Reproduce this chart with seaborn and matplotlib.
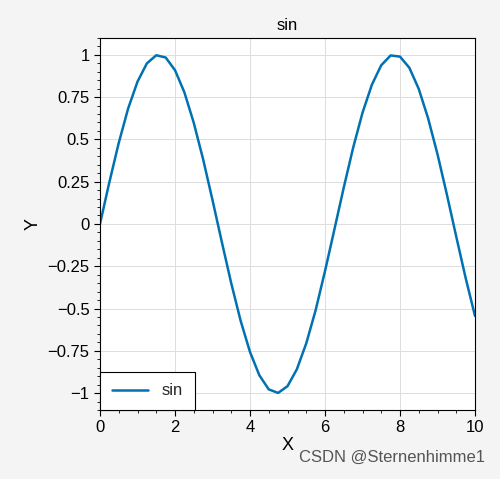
import matplotlib
matplotlib.use("Agg")
import matplotlib.pyplot as plt
import seaborn as sns
from matplotlib.ticker import AutoMinorLocator, FixedLocator

# values, step 0.25
x_vals = [i * 0.25 for i in range(41)]
y_vals = [0, 0.247, 0.479, 0.682, 0.841, 0.949, 0.997, 0.984, 0.909, 0.778,
          0.598, 0.382, 0.141, -0.108, -0.351, -0.572, -0.757, -0.895, -0.978, -0.999,
          -0.959, -0.859, -0.706, -0.510, -0.279, -0.033, 0.215, 0.450, 0.657, 0.823,
          0.938, 0.996, 0.989, 0.923, 0.798, 0.624, 0.412, 0.174, -0.075, -0.319, -0.544]
y_ticks = [-1, -0.75, -0.5, -0.25, 0, 0.25, 0.5, 0.75, 1]
y_labels = ["\u22121", "\u22120.75", "\u22120.5", "\u22120.25", "0", "0.25", "0.5", "0.75", "1"]

sns.set_theme(style="whitegrid")
plt.rcParams["font.family"] = ["Liberation Sans", "DejaVu Sans"]

fig = plt.figure(figsize=(5, 4.79), dpi=100, facecolor="#f4f4f4")
ax = fig.add_axes([0.2, 0.144, 0.75, 0.777])
ax.set_facecolor("white")

sns.lineplot(x=x_vals, y=y_vals, ax=ax, color="#0072b2", linewidth=1.8, label="sin")

ax.set_xlim(0, 10)
ax.set_ylim(-1.1, 1.1)
ax.set_xticks([0, 2, 4, 6, 8, 10])
ax.yaxis.set_major_locator(FixedLocator(y_ticks))
ax.set_yticklabels(y_labels)
ax.xaxis.set_minor_locator(AutoMinorLocator(4))
ax.yaxis.set_minor_locator(AutoMinorLocator(5))
ax.tick_params(which="major", direction="out", length=4, width=0.8, color="black",
               labelsize=12, labelcolor="black", bottom=True, left=True)
ax.tick_params(which="minor", direction="out", length=2, width=0.6, color="black",
               bottom=True, left=True)
ax.grid(True, which="major", color="#dddddd", linewidth=0.7)
for s in ax.spines.values():
    s.set_color("black")
    s.set_linewidth(0.8)

ax.set_title("sin", fontsize=12, color="black")
ax.set_xlabel("X", fontsize=13, labelpad=1, color="black")
ax.set_ylabel("Y", fontsize=13, color="black")

leg = ax.legend(loc="lower left", fontsize=12, fancybox=False, framealpha=1,
                borderaxespad=0, borderpad=0.7, handlelength=2.2)
leg.get_frame().set_edgecolor("black")
leg.get_frame().set_linewidth(0.8)

fig.text(0.97, 0.045, "CSDN @Sternenhimme1", ha="right", va="center",
         fontsize=12, color="#555555")

fig.savefig("out.png", dpi=100, facecolor=fig.get_facecolor())
